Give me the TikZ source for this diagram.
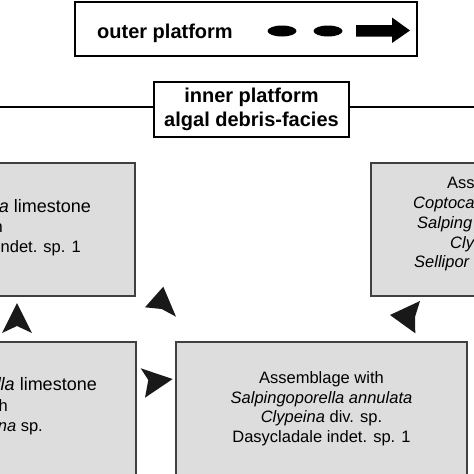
\documentclass[tikz,border=0pt]{standalone}
\usepackage{fontspec}
\setmainfont{Liberation Sans}
\usetikzlibrary{positioning}
\usetikzlibrary{shapes.geometric}
\definecolor{boxgray}{RGB}{221,221,221}

\begin{document}
\begin{tikzpicture}[x=1pt,y=-1pt]
      \tikzset{
         legbox/.style = {
            rectangle, draw,
            line width=1.6pt, fill=white,
            inner sep=0pt
         },
         algbox/.style = {
            rectangle, draw=black!75,
            line width=1.2pt, fill=boxgray,
            minimum width=291pt, minimum height=133pt,
            align=center, inner sep=0pt,
            font=\fontsize{16.5}{19.5}\selectfont
         },
         frag/.style = {
            inner sep=0pt,
            font=\fontsize{16.5}{19.5}\selectfont
         },
         bigfrag/.style = {
            inner sep=0pt,
            font=\fontsize{18}{21}\selectfont
         },
         headtext/.style = {
            inner sep=0pt,
            font=\fontsize{20}{24}\selectfont\bfseries
         },
         tipfill/.style = {fill=black!90}
      }
      \useasboundingbox (0,0) rectangle (474,474) ;
      \clip (0,0) rectangle (474,474) ;
      \node[legbox, minimum width=342pt, minimum height=54pt] (outerPlat) at (246,29) {} ;
      \node[headtext, anchor=base west] (outerLbl) at (97,38) {outer platform} ;
      \node[ellipse, fill, inner sep=0pt, minimum width=29pt, minimum height=11pt] (dotA) at (282,31) {} ;
      \node[ellipse, fill, inner sep=0pt, minimum width=29pt, minimum height=11pt] (dotB) at (328,31) {} ;
      \fill (356,25) -- (392,25) -- (392,17.5) -- (410,30.5) -- (392,43) -- (392,36.5) -- (356,36.5) -- cycle ;
      \node[legbox, line width=1.4pt, minimum width=195pt, minimum height=55pt, align=center, headtext] (innerPlat) at (251.5,109.5) {inner platform\\algal debris-facies} ;
      \coordinate (edgeL) at (0,107) ;
      \coordinate (edgeR) at (474,107) ;
      \draw [line width=1.2pt] (edgeL) -- (edgeL -| innerPlat.west) ;
      \draw [line width=1.2pt] (innerPlat.east |- edgeR) -- (edgeR) ;
      \node[algbox] (topLeft) at (-10.5,229.5) {} ;
      \node[algbox] (topRight) at (516.5,229.5) {} ;
      \node[algbox] (botLeft) at (-9.5,408.5) {} ;
      \node[algbox] (botMid) at (321.5,408.5) {
        Assemblage with\\
        \textit{Salpingoporella annulata}\\
        \textit{Clypeina} div. sp.\\
        Dasycladale indet. sp. 1
      } ;
      \node[bigfrag, anchor=base east] (tlOne) at (91,212.5) {\textit{a} limestone} ;
      \node[frag, anchor=base east] (tlTwo) at (3,232.5) {h} ;
      \node[frag, anchor=base east] (tlThree) at (81,252.5) {ndet. sp. 1} ;
      \node[bigfrag, anchor=base east] (blOne) at (97,390) {\textit{lla} limestone} ;
      \node[frag, anchor=base east] (blTwo) at (8,411) {h} ;
      \node[frag, anchor=base east] (blThree) at (43,431) {\textit{na} sp.} ;
      \node[frag, anchor=base west] (trOne) at (447,188.5) {Ass} ;
      \node[frag, anchor=base west] (trTwo) at (413,208.5) {\textit{Coptoca}} ;
      \node[frag, anchor=base west] (trThree) at (417,228.5) {\textit{Salping}} ;
      \node[frag, anchor=base west] (trFour) at (450,248.5) {\textit{Cly}} ;
      \node[frag, anchor=base west] (trFive) at (414,267.5) {\textit{Sellipor}} ;
      \fill[tipfill] (17,303) -- (32,333) -- (17,326) -- (2,333) -- cycle ;
      \fill[tipfill] (163.3,286.7) -- (176,316.7) -- (161.7,309) -- (145,307.3) -- cycle ;
      \fill[tipfill] (390,315) -- (420,301) -- (415,317) -- (415.3,333.3) -- cycle ;
      \fill[tipfill] (172.7,379) -- (145,397.7) -- (148.3,380) -- (140.7,368.3) -- cycle ;
    \end{tikzpicture}
\end{document}
